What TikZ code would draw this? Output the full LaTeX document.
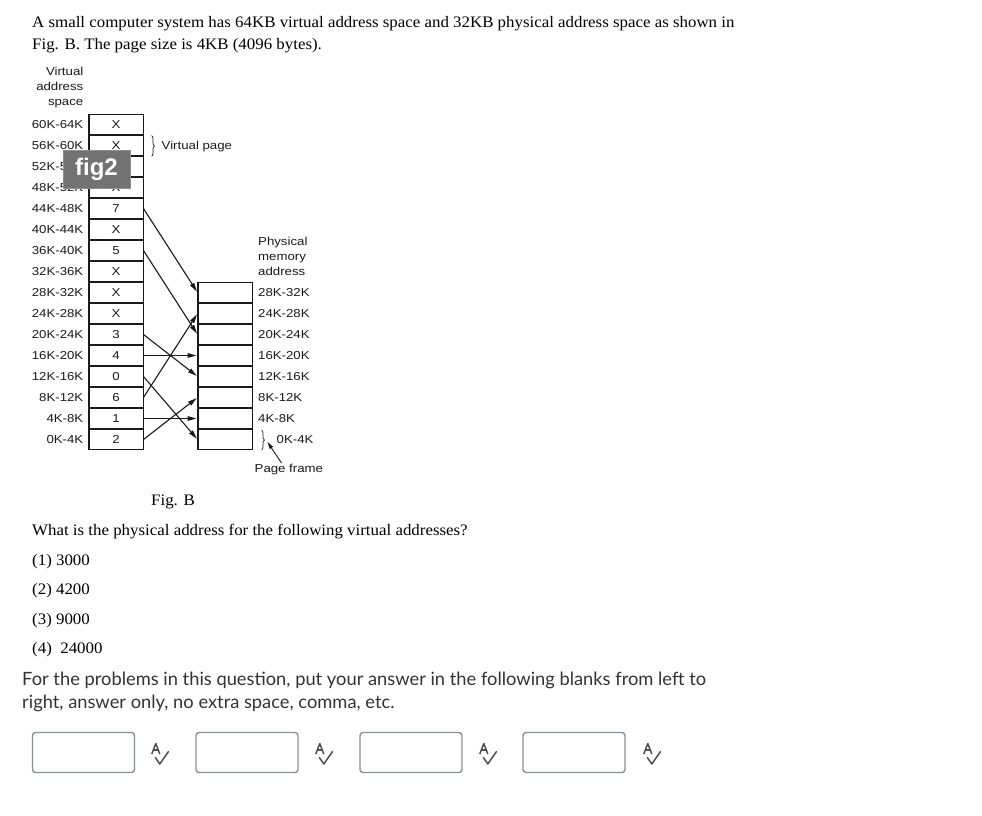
\documentclass[tikz,border=0pt]{standalone}
\usepackage{fontspec}
\setmainfont[FakeStretch=1.055]{Liberation Serif}
\newfontfamily\latofont{Lato}
\newfontfamily\dsf[FakeStretch=1.15]{Liberation Sans}
\newfontfamily\figfont{Liberation Sans}
\usetikzlibrary{arrows.meta,decorations.pathreplacing}
\definecolor{boxgray}{HTML}{8A8F93}
\definecolor{lineblk}{HTML}{1A1A1A}
\definecolor{latotext}{HTML}{333333}
\definecolor{figgray}{HTML}{727272}
\definecolor{figedge}{HTML}{8E8E8E}
\definecolor{icongray}{HTML}{505050}
\begin{document}
\begin{tikzpicture}[x=1pt,y=-1pt,
  serif/.style={font=\fontsize{16}{20}\selectfont, inner sep=0, anchor=base west},
  latotxt/.style={font=\latofont\fontsize{18.3}{22}\selectfont, text=latotext, inner sep=0, anchor=base west},
  dtext/.style={font=\dsf\fontsize{11.5}{14}\selectfont, inner sep=0, text=lineblk},
  cellbox/.style={draw=lineblk, line width=0.95pt, minimum width=54, minimum height=19.4, inner sep=0, font=\dsf\fontsize{11.5}{14}\selectfont, text=lineblk},
  arr/.style={draw=lineblk, line width=1.1pt, shorten >=1pt, -{Triangle[length=9pt,width=4.6pt]}},
  ansbox/.style={draw=boxgray, line width=1.4pt, rounded corners=3pt, minimum width=102, minimum height=40, inner sep=0},
  brc/.style={draw=lineblk, line width=0.7pt, decorate, decoration={brace, amplitude=3pt}}
]
\useasboundingbox (0,0) rectangle (982,816);

% header text
\node[serif] (h1) at (32,28) {A small computer system has 64KB virtual address space and 32KB physical address space as shown in};
\node[serif] (h2) at (32,50) {Fig. B. The page size is 4KB (4096 bytes).};

% virtual address space heading
\node[dtext, anchor=base east] (vh1) at (83.5,75.5) {Virtual};
\node[dtext, anchor=base east] (vh2) at (83.5,90.5) {address};
\node[dtext, anchor=base east] (vh3) at (83.5,105) {space};

% virtual table
\foreach \i/\t in {0/2,1/1,2/6,3/0,4/4,5/3,6/X,7/X,8/X,9/5,10/X,11/7,12/X,13/X,14/X,15/X}{
  \pgfmathsetmacro\cy{439.5-21*\i}
  \pgfmathtruncatemacro\lo{4*\i}
  \pgfmathtruncatemacro\hi{4*\i+4}
  \node[cellbox] (v\i) at (116,\cy) {\t};
  \node[dtext, anchor=base east] (vl\i) at (83.5,\cy+4.2) {\lo K-\hi K};
}
\draw[lineblk, line width=0.95pt] (v15.north west) rectangle (v0.south east);

% physical table
\foreach \j in {0,...,7}{
  \pgfmathsetmacro\cy{439.5-21*\j}
  \node[cellbox] (p\j) at (225,\cy) {};
}
\draw[lineblk, line width=0.95pt] (p7.north west) rectangle (p0.south east);
\foreach \j in {1,...,7}{
  \pgfmathsetmacro\cy{439.5-21*\j}
  \pgfmathtruncatemacro\lo{4*\j}
  \pgfmathtruncatemacro\hi{4*\j+4}
  \node[dtext, anchor=base west] (pl\j) at (258,\cy+4.2) {\lo K-\hi K};
}
\node[dtext, anchor=base west] (pl0) at (276.5,443.7) {0K-4K};

% physical heading
\node[dtext, anchor=base west] (ph1) at (258,245.5) {Physical};
\node[dtext, anchor=base west] (ph2) at (258,260.5) {memory};
\node[dtext, anchor=base west] (ph3) at (258,275) {address};

% mapping arrows
\foreach \a/\b in {0/2,1/1,2/6,3/0,4/4,5/3,9/5,11/7}{
  \draw[arr] (v\a.east) -- (p\b.west);
}

% virtual page brace
\draw[brc] (151.5,135.5) -- (151.5,156.5);
\node[dtext, anchor=base west] (vp) at (161.5,149.3) {Virtual page};

% page frame
\draw[brc] (261.5,430) -- (261.5,450);
\node[dtext, anchor=base west] (pf) at (254.5,472.7) {Page frame};
\coordinate (pft) at (281.5,463);
\coordinate (pfh) at (267.5,442);
\draw[lineblk, line width=0.9pt, -{Triangle[length=7pt,width=3.8pt]}] (pft) -- (pfh);

% fig2 overlay
\node[fill=figgray, draw=figedge, line width=0.8pt, minimum width=67, minimum height=38, inner sep=0,
      text=white, font=\figfont\bfseries\fontsize{24}{25}\selectfont] (fig) at (96.5,169) {fig2};

% caption and questions
\node[serif] (cap) at (151,505) {Fig. B};
\node[serif] (q0) at (32,535) {What is the physical address for the following virtual addresses?};
\node[serif] (q1) at (32,565) {(1) 3000};
\node[serif] (q2) at (32,594.5) {(2) 4200};
\node[serif] (q3) at (32,624) {(3) 9000};
\node[serif] (q4) at (32,653.5) {(4)\ \ 24000};

\node[latotxt] (l1) at (22,685) {For the problems in this question, put your answer in the following blanks from left to};
\node[latotxt] (l2) at (22,708) {right, answer only, no extra space, comma, etc.};

% answer boxes and spell-check icons
\foreach \k/\bx/\ix in {1/83.5/0,2/247/164,3/411/328,4/574/492}{
  \node[ansbox] (b\k) at (\bx,752.5) {};
  \begin{scope}[xshift=\ix pt]
    \draw[icongray, line width=1.5pt, line join=round] (151.8,754) -- (155.8,743.5) -- (159.8,754);
    \draw[icongray, line width=1.2pt] (153.4,750) -- (158.2,750);
    \draw[icongray, line width=1.5pt, line join=round, line cap=round] (155.3,757.5) -- (159.8,764) -- (168.5,751.5);
  \end{scope}
}
\end{tikzpicture}
\end{document}
